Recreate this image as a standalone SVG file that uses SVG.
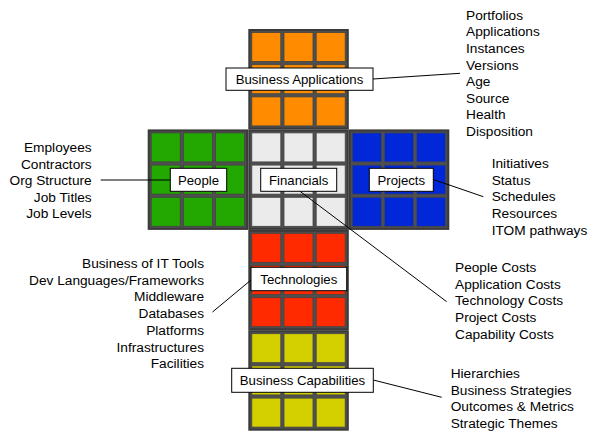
<svg xmlns="http://www.w3.org/2000/svg" xmlns:xlink="http://www.w3.org/1999/xlink" width="598" height="439" viewBox="0 0 598 439">
<style>
text{font-family:"Liberation Sans",Arial,sans-serif;font-size:13.7px;fill:#000}
.lbl{font-size:13.2px;text-anchor:middle}
.r{text-anchor:end}
.box{fill:#fff;stroke:#000;stroke-width:1}
.ln{stroke:#000;stroke-width:1;fill:none}
.bg{fill:#4f4f4f;stroke:#3a3a3a;stroke-width:2}
.cell{stroke:#444;stroke-width:0.8}
</style>
<defs>
<symbol id="face" overflow="visible">
<rect class="bg" x="1" y="1" width="98.5" height="98.5"/>
<rect class="cell" x="3.5" y="3.5" width="29" height="29"/>
<rect class="cell" x="35.7" y="3.5" width="29" height="29"/>
<rect class="cell" x="67.9" y="3.5" width="29" height="29"/>
<rect class="cell" x="3.5" y="35.7" width="29" height="29"/>
<rect class="cell" x="35.7" y="35.7" width="29" height="29"/>
<rect class="cell" x="67.9" y="35.7" width="29" height="29"/>
<rect class="cell" x="3.5" y="67.9" width="29" height="29"/>
<rect class="cell" x="35.7" y="67.9" width="29" height="29"/>
<rect class="cell" x="67.9" y="67.9" width="29" height="29"/>
</symbol>
</defs>
<rect width="598" height="439" fill="#fff"/>
<g id="faces">
<use id="face-apps" xlink:href="#face" href="#face" x="248.3" y="29" fill="#ff8c00"/>
<use id="face-people" xlink:href="#face" href="#face" x="147.7" y="129.4" fill="#22a800"/>
<use id="face-fin" xlink:href="#face" href="#face" x="248.3" y="129.4" fill="#ebebeb"/>
<use id="face-proj" xlink:href="#face" href="#face" x="348.8" y="129.4" fill="#0028d8"/>
<use id="face-tech" xlink:href="#face" href="#face" x="248.3" y="229.8" fill="#ff2a00"/>
<use id="face-cap" xlink:href="#face" href="#face" x="248.3" y="330.2" fill="#d4d000"/>
</g>
<g id="connectors">
<line class="ln" x1="373" y1="79" x2="460" y2="73.3"/>
<line class="ln" x1="100.7" y1="180" x2="170.3" y2="180"/>
<line class="ln" x1="300" y1="191.3" x2="446.7" y2="301.7"/>
<line class="ln" x1="433.3" y1="179.5" x2="483.3" y2="196.7"/>
<line class="ln" x1="212.5" y1="312" x2="251" y2="280"/>
<line class="ln" x1="373.3" y1="380" x2="441.7" y2="397.3"/>
</g>
<g id="node-business-applications">
<rect class="box" x="226" y="68" width="147" height="22.3"/>
<text class="lbl" x="299.5" y="83.6">Business Applications</text>
</g>
<g id="node-people">
<rect class="box" x="170.3" y="168.3" width="56.4" height="23"/>
<text class="lbl" x="198.5" y="184.5">People</text>
</g>
<g id="node-financials">
<rect class="box" x="260.7" y="168.3" width="76" height="23"/>
<text class="lbl" x="298.7" y="184.5">Financials</text>
</g>
<g id="node-projects">
<rect class="box" x="369.3" y="168.3" width="64" height="23"/>
<text class="lbl" x="401.3" y="184.5">Projects</text>
</g>
<g id="node-technologies">
<rect class="box" x="251" y="267.3" width="95.7" height="23.4"/>
<text class="lbl" x="298.8" y="283.6">Technologies</text>
</g>
<g id="node-business-capabilities">
<rect class="box" x="231.7" y="368.3" width="141.6" height="24"/>
<text class="lbl" x="302.5" y="385">Business Capabilities</text>
</g>
<g id="list-applications">
<text x="466" y="19.7">Portfolios</text>
<text x="466" y="36.3">Applications</text>
<text x="466" y="52.9">Instances</text>
<text x="466" y="69.5">Versions</text>
<text x="466" y="86.1">Age</text>
<text x="466" y="102.7">Source</text>
<text x="466" y="119.3">Health</text>
<text x="466" y="135.9">Disposition</text>
</g>
<g id="list-projects">
<text x="491.7" y="168">Initiatives</text>
<text x="491.7" y="184.7">Status</text>
<text x="491.7" y="201.4">Schedules</text>
<text x="491.7" y="218.1">Resources</text>
<text x="491.7" y="234.8">ITOM pathways</text>
</g>
<g id="list-financials">
<text x="455" y="272">People Costs</text>
<text x="455" y="288.7">Application Costs</text>
<text x="455" y="305.4">Technology Costs</text>
<text x="455" y="322.1">Project Costs</text>
<text x="455" y="338.8">Capability Costs</text>
</g>
<g id="list-capabilities">
<text x="450.7" y="378">Hierarchies</text>
<text x="450.7" y="394.7">Business Strategies</text>
<text x="450.7" y="411.4">Outcomes &amp; Metrics</text>
<text x="450.7" y="428.1">Strategic Themes</text>
</g>
<g id="list-people">
<text class="r" x="91.7" y="152.4">Employees</text>
<text class="r" x="91.7" y="168.9">Contractors</text>
<text class="r" x="91.7" y="185.4">Org Structure</text>
<text class="r" x="91.7" y="201.9">Job Titles</text>
<text class="r" x="91.7" y="218.4">Job Levels</text>
</g>
<g id="list-technologies">
<text class="r" x="204" y="268">Business of IT Tools</text>
<text class="r" x="204" y="284.7">Dev Languages/Frameworks</text>
<text class="r" x="204" y="301.4">Middleware</text>
<text class="r" x="204" y="318.1">Databases</text>
<text class="r" x="204" y="334.8">Platforms</text>
<text class="r" x="204" y="351.5">Infrastructures</text>
<text class="r" x="204" y="368.2">Facilities</text>
</g>
</svg>
